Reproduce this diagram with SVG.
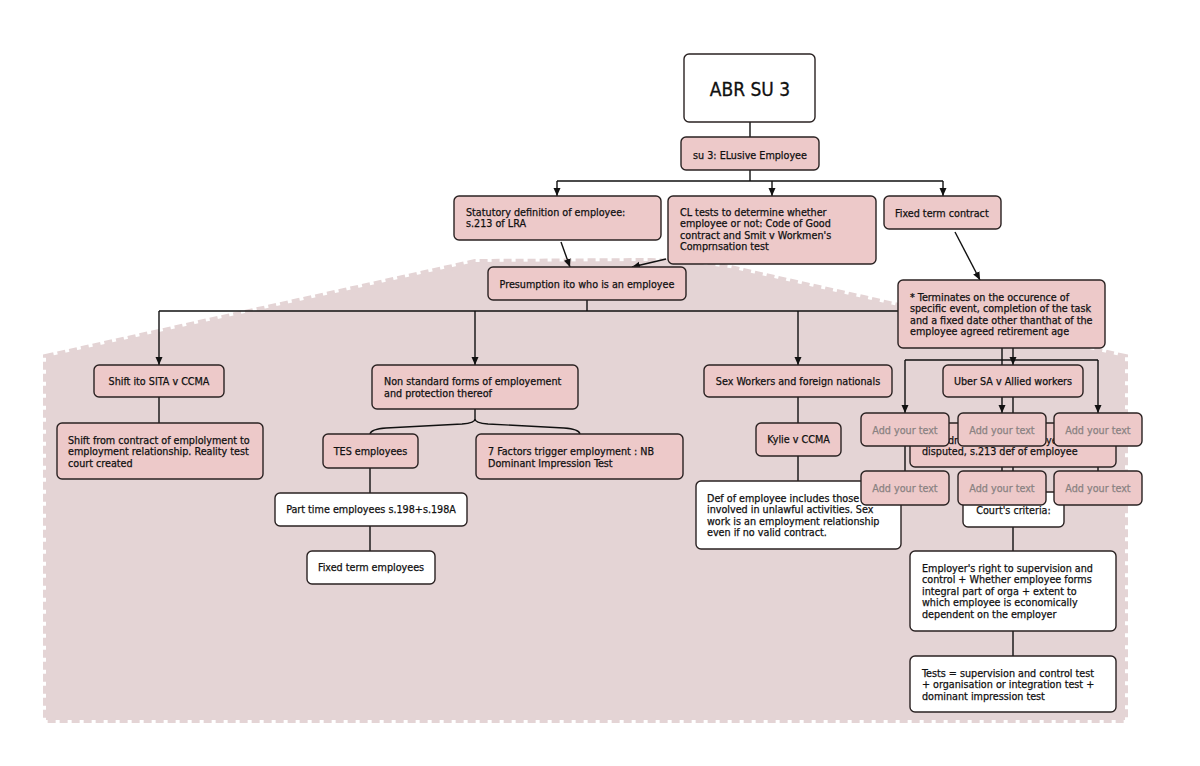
<svg xmlns="http://www.w3.org/2000/svg" width="1200" height="766" viewBox="0 0 1200 766">
<style>
  .bg { fill:#e4d4d5; stroke:#e4d4d5; stroke-width:6; stroke-dasharray:8 4; }
  .p { fill:#edc9c9; stroke:#2a2222; stroke-width:1.4; }
  .w { fill:#ffffff; stroke:#2a2222; stroke-width:1.4; }
  text { font-family:"DejaVu Sans Condensed","DejaVu Sans",sans-serif; font-size:10.7px; fill:#111; stroke:#111; stroke-width:0.25; }
  .c { text-anchor:middle; }
  .t { font-size:19px; stroke-width:0.3; }
  .g { fill:#8a8282; stroke:#8a8282; font-size:10.7px; }
  .ln { fill:none; stroke:#111; stroke-width:1.4; }
</style>
<defs>
  <marker id="ah" markerUnits="userSpaceOnUse" markerWidth="8" markerHeight="8" refX="8" refY="3.5" orient="auto">
    <path d="M0,0 L8,3.5 L0,7 Z" fill="#111"/>
  </marker>
</defs>
<rect x="0" y="0" width="1200" height="766" fill="#ffffff"/>
<path class="bg" d="M46,357 L475,262 L650,261 Q690,262 730,268 L1125,357 L1125,720 L46,720 Z"/>

<g id="connectors">
  <path class="ln" d="M750,122 V137"/>
  <path class="ln" d="M750,170 V181 M557,181 H943"/>
  <path class="ln" marker-end="url(#ah)" d="M557,181 V196"/>
  <path class="ln" marker-end="url(#ah)" d="M772,181 V196"/>
  <path class="ln" marker-end="url(#ah)" d="M943,181 V196"/>
  <path class="ln" marker-end="url(#ah)" d="M561,242 L570,267"/>
  <path class="ln" marker-end="url(#ah)" d="M666,259 L632,267"/>
  <path class="ln" marker-end="url(#ah)" d="M955,232 L980,280"/>
  <path class="ln" d="M587,300 V311 M159,311 H898"/>
  <path class="ln" marker-end="url(#ah)" d="M159,311 V365"/>
  <path class="ln" marker-end="url(#ah)" d="M475,311 V365"/>
  <path class="ln" marker-end="url(#ah)" d="M798,311 V365"/>
  <path class="ln" marker-end="url(#ah)" d="M1013,348 V365"/>
  <path class="ln" d="M1002,348 V360 M905,360 H1098"/>
  <path class="ln" marker-end="url(#ah)" d="M905,360 V413"/>
  <path class="ln" marker-end="url(#ah)" d="M1002,360 V413"/>
  <path class="ln" marker-end="url(#ah)" d="M1098,360 V413"/>
  <path class="ln" d="M1013,397 V423"/>
  <path class="ln" d="M905,446 V471 M1002,446 V471 M1098,446 V471"/>
  <path class="ln" d="M1013,467 V492 M1013,527 V551 M1013,631 V656"/>
  <path class="ln" d="M159,397 V423"/>
  <path class="ln" d="M475,409 V419 Q475,423 462,424 L386,428 Q371,429 370,434"/>
  <path class="ln" d="M475,419 Q475,423 488,424 L564,428 Q579,429 580,434"/>
  <path class="ln" d="M370,468 V493 M370,526 V551"/>
  <path class="ln" d="M798,397 V423 M798,456 V481"/>
</g>

<g id="n-abr"><rect class="w" x="684" y="54" width="131" height="68" rx="5"/><text class="c t" x="750" y="96">ABR SU 3</text></g>
<g id="n-su3"><rect class="p" x="681" y="137" width="138" height="33" rx="5"/><text class="c" x="750" y="158.5">su 3: ELusive Employee</text></g>
<g id="n-stat"><rect class="p" x="454" y="196" width="207" height="44" rx="5"/>
  <text x="466" y="215.5">Statutory definition of employee:</text><text x="466" y="227">s.213 of LRA</text></g>
<g id="n-cl"><rect class="p" x="668" y="196" width="208" height="68" rx="5"/>
  <text x="680" y="215.5">CL tests to determine whether</text><text x="680" y="227">employee or not: Code of Good</text>
  <text x="680" y="238.5">contract and Smit v Workmen's</text><text x="680" y="250">Comprnsation test</text></g>
<g id="n-ftc"><rect class="p" x="884" y="196" width="117" height="33" rx="5"/><text x="895" y="216.5">Fixed term contract</text></g>
<g id="n-pres"><rect class="p" x="488" y="267" width="198" height="33" rx="5"/><text class="c" x="587" y="287.5">Presumption ito who is an employee</text></g>
<g id="n-term"><rect class="p" x="898" y="280" width="207" height="68" rx="5"/>
  <text x="910" y="300.5">* Terminates on the occurence of</text><text x="910" y="312">specific event, completion of the task</text>
  <text x="910" y="323.5">and a fixed date other thanthat of the</text><text x="910" y="335">employee agreed retirement age</text></g>
<g id="n-sita"><rect class="p" x="94" y="365" width="130" height="32" rx="5"/><text class="c" x="159" y="384.5">Shift ito SITA v CCMA</text></g>
<g id="n-shift"><rect class="p" x="57" y="423" width="206" height="56" rx="5"/>
  <text x="68" y="443.5">Shift from contract of emplolyment to</text><text x="68" y="455">employment relationship. Reality test</text>
  <text x="68" y="466.5">court created</text></g>
<g id="n-nsf"><rect class="p" x="372" y="365" width="206" height="44" rx="5"/>
  <text x="384" y="385">Non standard forms of employement</text><text x="384" y="396.5">and protection thereof</text></g>
<g id="n-tes"><rect class="p" x="323" y="434" width="95" height="34" rx="5"/><text class="c" x="370.5" y="454.5">TES employees</text></g>
<g id="n-7f"><rect class="p" x="476" y="434" width="207" height="45" rx="5"/>
  <text x="488" y="455">7 Factors trigger employment : NB</text><text x="488" y="466.5">Dominant Impression Test</text></g>
<g id="n-pt"><rect class="w" x="275" y="493" width="192" height="33" rx="5"/><text class="c" x="371" y="513">Part time employees s.198+s.198A</text></g>
<g id="n-fte"><rect class="w" x="307" y="551" width="128" height="33" rx="5"/><text class="c" x="371" y="571">Fixed term employees</text></g>
<g id="n-sex"><rect class="p" x="704" y="365" width="188" height="32" rx="5"/><text class="c" x="798" y="384.5">Sex Workers and foreign nationals</text></g>
<g id="n-kylie"><rect class="p" x="756" y="423" width="85" height="33" rx="5"/><text class="c" x="798.5" y="443">Kylie v CCMA</text></g>
<g id="n-def"><rect class="w" x="696" y="481" width="205" height="68" rx="5"/>
  <text x="707" y="501.5">Def of employee includes those</text><text x="707" y="513">involved in unlawful activities. Sex</text>
  <text x="707" y="524.5">work is an employment relationship</text><text x="707" y="536">even if no valid contract.</text></g>
<g id="n-uber"><rect class="p" x="943" y="365" width="140" height="32" rx="5"/><text class="c" x="1013" y="384.5">Uber SA v Allied workers</text></g>
<g id="n-disp"><rect class="p" x="910" y="423" width="206" height="44" rx="5"/>
  <text x="948" y="443.5">dr</text><text x="1046" y="443.5">ye</text>
  <text x="922" y="455">disputed, s.213 def of employee</text></g>
<g id="n-court"><rect class="w" x="963" y="492" width="101" height="35" rx="5"/><text class="c" x="1013.5" y="513.5">Court's criteria:</text></g>
<g id="n-emp"><rect class="w" x="910" y="551" width="206" height="80" rx="5"/>
  <text x="922" y="571.5">Employer's right to supervision and</text><text x="922" y="583">control + Whether employee forms</text>
  <text x="922" y="594.5">integral part of orga + extent to</text><text x="922" y="606">which employee is economically</text>
  <text x="922" y="617.5">dependent on the employer</text></g>
<g id="n-tests"><rect class="w" x="910" y="656" width="206" height="56" rx="5"/>
  <text x="922" y="676.5">Tests = supervision and control test</text><text x="922" y="688">+ organisation or integration test +</text>
  <text x="922" y="699.5">dominant impression test</text></g>

<g id="n-add1"><rect class="p" x="861" y="413" width="88" height="33" rx="5"/><text class="c g" x="905" y="433.5">Add your text</text></g>
<g id="n-add2"><rect class="p" x="958" y="413" width="88" height="33" rx="5"/><text class="c g" x="1002" y="433.5">Add your text</text></g>
<g id="n-add3"><rect class="p" x="1054" y="413" width="88" height="33" rx="5"/><text class="c g" x="1098" y="433.5">Add your text</text></g>
<g id="n-add4"><rect class="p" x="861" y="471" width="88" height="34" rx="5"/><text class="c g" x="905" y="491.5">Add your text</text></g>
<g id="n-add5"><rect class="p" x="958" y="471" width="88" height="34" rx="5"/><text class="c g" x="1002" y="491.5">Add your text</text></g>
<g id="n-add6"><rect class="p" x="1054" y="471" width="88" height="34" rx="5"/><text class="c g" x="1098" y="491.5">Add your text</text></g>
</svg>
